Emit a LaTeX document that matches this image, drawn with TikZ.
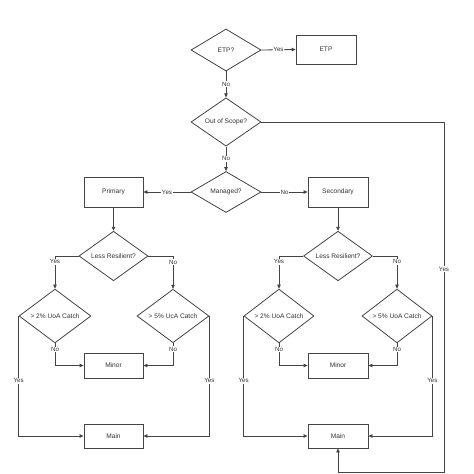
\documentclass[tikz,border=0pt]{standalone}
\usepackage{fontspec}
\setmainfont{Liberation Sans}
\usetikzlibrary{shapes.geometric,arrows.meta}
\definecolor{ln}{HTML}{444444}
\definecolor{tx}{HTML}{333333}
\begin{document}
\begin{tikzpicture}[x=1pt,y=-1pt,
  dec/.style={diamond,draw=ln,line width=0.8pt,inner sep=0pt,text=tx,font=\fontsize{6.6}{8}\selectfont,minimum width=#1},
  dec/.default=70pt,
  boxn/.style={rectangle,draw=ln,line width=0.8pt,inner sep=0pt,text=tx,font=\fontsize{6.6}{8}\selectfont,minimum width=60pt,minimum height=29pt},
  arr/.style={draw=ln,line width=0.8pt,-{Triangle[length=4pt,width=3.5pt]}},
  lbl/.style={fill=white,inner sep=0.8pt,text=tx,font=\fontsize{6.2}{7}\selectfont}]
\useasboundingbox[fill=white] (0,0) rectangle (474,474);
\node[dec,minimum height=42pt] (etpq) at (226,50) {ETP?};
\node[boxn] (etp) at (326,49.5) {ETP};
\node[dec,minimum height=40pt] (oos) at (226,122) {Out of Scope?};
\node[dec,minimum height=41pt] (man) at (226,192) {Managed?};
\node[boxn,minimum width=59pt,minimum height=30pt] (prim) at (113.5,192) {Primary};
\node[boxn,minimum height=30pt] (sec) at (338,192) {Secondary};
\node[dec=69pt,minimum height=41pt] (lr1) at (113.5,256) {Less Resilient?};
\node[dec=69pt,minimum height=41pt] (lr2) at (338,256) {Less Resilient?};
\node[dec=72pt,minimum height=42pt] (c21) at (55,316) {> 2\% UoA Catch};
\node[dec=72pt,minimum height=42pt] (c51) at (173,316) {> 5\% UcA Catch};
\node[dec=70pt,minimum height=42pt] (c22) at (279,316) {> 2\% UoA Catch};
\node[dec=70pt,minimum height=42pt] (c52) at (397,316) {> 5\% UoA Catch};
\node[boxn,minimum width=59pt,minimum height=25pt] (min1) at (113.5,365.5) {Minor};
\node[boxn,minimum width=59pt,minimum height=24pt] (main1) at (113.5,436) {Main};
\node[boxn,minimum height=25pt] (min2) at (338,365.5) {Minor};
\node[boxn,minimum height=24pt] (main2) at (338,436) {Main};
\coordinate (r1) at (444,122);
\coordinate (r2) at (444,472);
% top
\draw[arr] (etpq.east) -- node[lbl]{Yes} (etp.west);
\draw[arr] (etpq.south) -- node[lbl]{No} (oos.north);
\draw[arr] (oos.south) -- node[lbl]{No} (man.north);
\draw[arr] (oos.east) -- (r1) -- node[lbl,pos=0.42]{Yes} (r2) -| (main2.south);
\draw[arr] (man.west) -- node[lbl]{Yes} (prim.east);
\draw[arr] (man.east) -- node[lbl]{No} (sec.west);
\draw[arr] (prim.south) -- (lr1.north);
\draw[arr] (sec.south) -- (lr2.north);
% left branch
\draw[arr] (lr1.west) -| node[lbl,pos=0.59]{Yes} (c21.north);
\draw[arr] (lr1.east) -| node[lbl,pos=0.59]{No} (c51.north);
\draw[arr] (c21.south) |- node[lbl,pos=0.14]{No} (min1.west);
\draw[arr] (c51.south) |- node[lbl,pos=0.14]{No} (min1.east);
\draw[arr] (c21.west) |- node[lbl,pos=0.27]{Yes} (main1.west);
\draw[arr] (c51.east) |- node[lbl,pos=0.27]{Yes} (main1.east);
% right branch
\draw[arr] (lr2.west) -| node[lbl,pos=0.59]{Yes} (c22.north);
\draw[arr] (lr2.east) -| node[lbl,pos=0.59]{No} (c52.north);
\draw[arr] (c22.south) |- node[lbl,pos=0.14]{No} (min2.west);
\draw[arr] (c52.south) |- node[lbl,pos=0.14]{No} (min2.east);
\draw[arr] (c22.west) |- node[lbl,pos=0.27]{Yes} (main2.west);
\draw[arr] (c52.east) |- node[lbl,pos=0.27]{Yes} (main2.east);
\end{tikzpicture}
\end{document}
